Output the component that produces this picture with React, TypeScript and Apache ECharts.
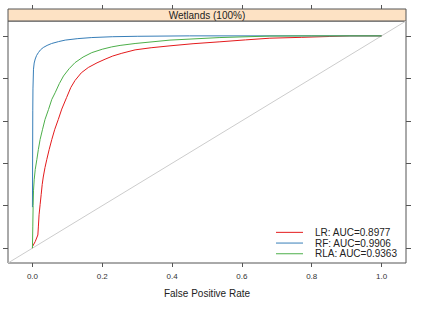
import React, { useEffect, useRef } from "react";
import * as echarts from "echarts";

const xTicks = [0, 0.2, 0.4, 0.6, 0.8, 1.0];
const yTicks = [0, 0.2, 0.4, 0.6, 0.8, 1.0];
const axisMin = -0.07;
const axisMax = 1.07;
const panelTitle = "Wetlands (100%)";
const xAxisTitle = "False Positive Rate";
const seriesNames = ["LR: AUC=0.8977", "RF: AUC=0.9906", "RLA: AUC=0.9363"];
const seriesColors = ["#e41a1c", "#377eb8", "#4daf4a"];

const lrCurve = [
  [0, 0], [0, 0.007], [0.008, 0.031], [0.0155, 0.062], [0.017, 0.1], [0.019, 0.157],
  [0.022, 0.205], [0.025, 0.252], [0.028, 0.3], [0.031, 0.335], [0.036, 0.38],
  [0.041, 0.417], [0.048, 0.465], [0.0555, 0.512], [0.064, 0.56], [0.074, 0.606],
  [0.084, 0.655], [0.098, 0.71], [0.11, 0.757], [0.122, 0.79], [0.14, 0.826],
  [0.16, 0.851], [0.185, 0.873], [0.208, 0.89], [0.23, 0.905], [0.256, 0.918],
  [0.294, 0.934], [0.34, 0.944], [0.394, 0.953], [0.46, 0.963], [0.537, 0.972],
  [0.61, 0.981], [0.68, 0.989], [0.77, 0.993], [0.85, 0.997], [0.909, 1.0], [1, 1],
];

const rfCurve = [
  [0, 0.193], [0.0005, 0.42], [0.001, 0.65], [0.0015, 0.75], [0.003, 0.843],
  [0.005, 0.872], [0.008, 0.891], [0.012, 0.908], [0.017, 0.921], [0.023, 0.934],
  [0.031, 0.945], [0.042, 0.955], [0.055, 0.964], [0.075, 0.973], [0.094, 0.98],
  [0.13, 0.987], [0.17, 0.992], [0.23, 0.996], [0.3, 0.998], [0.45, 1.0], [1, 1],
];

const rlaCurve = [
  [0, 0], [0.001, 0.1], [0.002, 0.2], [0.003, 0.27], [0.005, 0.322], [0.008, 0.37],
  [0.0126, 0.417], [0.017, 0.465], [0.022, 0.512], [0.029, 0.56], [0.036, 0.606],
  [0.046, 0.653], [0.0555, 0.701], [0.065, 0.732], [0.077, 0.775], [0.089, 0.811],
  [0.105, 0.845], [0.122, 0.874], [0.145, 0.9], [0.17, 0.921], [0.2, 0.937],
  [0.227, 0.948], [0.251, 0.955], [0.294, 0.964], [0.394, 0.98], [0.537, 0.992],
  [0.68, 0.999], [0.8, 1.0], [1, 1],
];

const diagonal = [[axisMin, axisMin], [axisMax, axisMax]];

const FONT = "'Liberation Sans', Arial, sans-serif";
const AXIS_COLOR = "#555555";

export default function App() {
  const ref = useRef<HTMLDivElement>(null);

  useEffect(() => {
    if (!ref.current) return;
    const chart = echarts.init(ref.current, undefined, { renderer: "svg" });
    const curves = [lrCurve, rfCurve, rlaCurve];
    const hiddenAxisBase = {
      type: "value" as const,
      min: axisMin,
      max: axisMax,
      splitLine: { show: false },
      axisLine: { show: false, onZero: false },
    };
    chart.setOption({
      animation: false,
      backgroundColor: "#ffffff",
      textStyle: { fontFamily: FONT },
      title: {
        text: panelTitle,
        left: 207,
        top: 9,
        textAlign: "center",
        padding: 0,
        textStyle: { fontSize: 10, fontWeight: "normal", color: "#222222", fontFamily: FONT, lineHeight: 12 },
      },
      graphic: [
        {
          type: "rect",
          z: 0,
          shape: { x: 8, y: 9, width: 398, height: 12 },
          style: { fill: "#fde2c4", stroke: AXIS_COLOR, lineWidth: 1 },
        },
      ],
      grid: {
        left: 8,
        top: 21,
        width: 398,
        height: 242,
        show: true,
        borderColor: AXIS_COLOR,
        borderWidth: 1,
        backgroundColor: "transparent",
      },
      legend: {
        orient: "vertical",
        left: 276,
        top: 227,
        icon: "rect",
        itemWidth: 27,
        itemHeight: 1,
        itemGap: 0,
        padding: 0,
        data: seriesNames,
        textStyle: { fontSize: 10, color: "#222222", fontFamily: FONT, lineHeight: 10.7, padding: [0, 0, 0, 7] },
      },
      xAxis: [
        {
          ...hiddenAxisBase,
          position: "bottom",
          name: xAxisTitle,
          nameLocation: "middle",
          nameGap: 25,
          nameTextStyle: { fontSize: 10, color: "#222222", fontFamily: FONT },
          axisTick: { show: true, length: 4, inside: false, customValues: xTicks, lineStyle: { color: AXIS_COLOR } },
          axisLabel: {
            show: true,
            customValues: xTicks,
            margin: 9,
            fontSize: 8,
            color: "#333333",
            fontFamily: FONT,
            formatter: (v: number) => v.toFixed(1),
          },
        },
        {
          ...hiddenAxisBase,
          position: "top",
          offset: 12,
          axisTick: { show: true, length: 4, inside: false, customValues: xTicks, lineStyle: { color: AXIS_COLOR } },
          axisLabel: { show: false },
        },
      ],
      yAxis: [
        {
          ...hiddenAxisBase,
          position: "left",
          axisTick: { show: true, length: 5, inside: false, customValues: yTicks, lineStyle: { color: AXIS_COLOR } },
          axisLabel: { show: false },
        },
        {
          ...hiddenAxisBase,
          position: "right",
          axisTick: { show: true, length: 5, inside: false, customValues: yTicks, lineStyle: { color: AXIS_COLOR } },
          axisLabel: { show: false },
        },
      ],
      series: [
        {
          name: "diagonal",
          type: "line",
          data: diagonal,
          symbol: "none",
          silent: true,
          lineStyle: { color: "#cccccc", width: 1 },
          z: 1,
        },
        ...curves.map((c, i) => ({
          name: seriesNames[i],
          type: "line",
          data: c,
          symbol: "none",
          color: seriesColors[i],
          lineStyle: { color: seriesColors[i], width: 1 },
          z: 2 + i,
        })),
      ],
    });
    return () => chart.dispose();
  }, []);

  return (
    <div
      ref={ref}
      style={{ position: "fixed", left: 0, top: 0, width: 430, height: 311 }}
    />
  );
}
